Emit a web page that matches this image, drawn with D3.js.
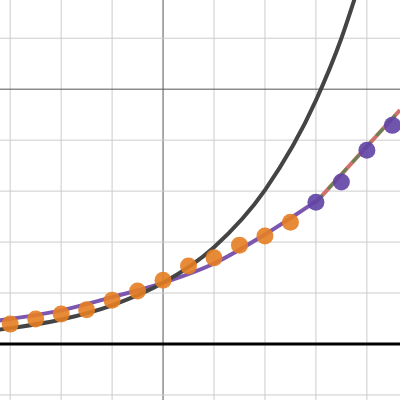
<!DOCTYPE html>
<html><head><meta charset="utf-8">
<script src="https://cdn.jsdelivr.net/npm/d3@7"></script>
<style>body{margin:0;background:#fff}</style>
</head><body>
<svg id="chart" width="400" height="400"></svg>
<script>
// orange data points
let orangeX = [-3, -2.5, -2, -1.5, -1, -0.5, 0, 0.5, 1, 1.5, 2, 2.5];
let orangeY = [0.39, 0.49, 0.59, 0.67, 0.86, 1.04, 1.25, 1.53, 1.69, 1.94, 2.12, 2.39];
// purple data points
let purpleX = [3, 3.5, 4, 4.5];
let purpleY = [2.78, 3.18, 3.80, 4.29];
// purple fitted curve
let fitX = [-3.3, -2, -1, 0, 1, 2, 3];
let fitY = [0.45, 0.66, 0.92, 1.2, 1.58, 2.15, 2.8];
// straight segment through purple points
let segX = [3, 4.65];
let segY = [2.78, 4.59];
// dark exponential curve
let expX = [-3.3, -2, -1, 0, 1, 2, 3, 3.5, 3.8];
let expY = [0.27, 0.48, 0.76, 1.2, 1.9, 3.02, 4.78, 6.0, 6.9];

let svg = d3.select("#chart");
let x = d3.scaleLinear().domain([-3.2, 4.65]).range([0, 400]);
let y = d3.scaleLinear().domain([0, 6.75]).range([344, 0]);

let gridX = d3.range(-3, 5, 1);
let gridY = d3.range(-1, 7, 1);
svg.selectAll(".gx").data(gridX).enter().append("line")
  .attr("x1", d => x(d)).attr("x2", d => x(d)).attr("y1", 0).attr("y2", 400)
  .attr("stroke", d => d === 0 ? "#555" : "#ccc").attr("stroke-width", 1);
svg.selectAll(".gy").data(gridY).enter().append("line")
  .attr("y1", d => y(d)).attr("y2", d => y(d)).attr("x1", 0).attr("x2", 400)
  .attr("stroke", d => d === 5 ? "#555" : "#ccc").attr("stroke-width", 1);

svg.append("line").attr("x1", 0).attr("x2", 400).attr("y1", y(0)).attr("y2", y(0))
  .attr("stroke", "#000").attr("stroke-width", 3);

let line = d3.line().x(d => x(d[0])).y(d => y(d[1]));
let smooth = d3.line().x(d => x(d[0])).y(d => y(d[1])).curve(d3.curveMonotoneX);

svg.append("path").datum(d3.zip(fitX, fitY)).attr("d", smooth)
  .attr("fill", "none").attr("stroke", "#7d56b0").attr("stroke-width", 4);
svg.append("path").datum(d3.zip(segX, segY)).attr("d", line)
  .attr("fill", "none").attr("stroke", "#d0706a").attr("stroke-width", 4);
svg.append("path").datum(d3.zip(segX, segY)).attr("d", line)
  .attr("fill", "none").attr("stroke", "#388c46").attr("stroke-width", 3)
  .attr("stroke-dasharray", "10,8").attr("opacity", 0.7);
svg.append("path").datum(d3.zip(expX, expY)).attr("d", smooth)
  .attr("fill", "none").attr("stroke", "#444").attr("stroke-width", 4);

svg.selectAll(".po").data(d3.zip(orangeX, orangeY)).enter().append("circle")
  .attr("cx", d => x(d[0])).attr("cy", d => y(d[1])).attr("r", 8.5)
  .attr("fill", "#e67e22").attr("opacity", 0.9);
svg.selectAll(".pp").data(d3.zip(purpleX, purpleY)).enter().append("circle")
  .attr("cx", d => x(d[0])).attr("cy", d => y(d[1])).attr("r", 8.5)
  .attr("fill", "#6042a6").attr("opacity", 0.9);
</script>
</body></html>
